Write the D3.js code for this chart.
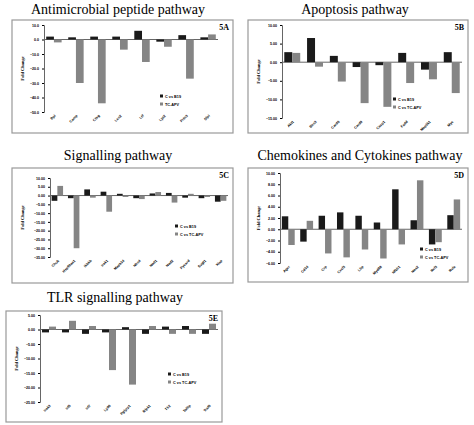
<!DOCTYPE html><html><head><meta charset="utf-8"><script src="https://d3js.org/d3.v7.min.js"></script>
<style>body{margin:0;background:#fff} .ser{font-family:"Liberation Serif","DejaVu Serif",serif}</style></head><body><script>
const catsA=["Bpi","Camp","Ctsg","Lcn2","Ltf","Lyz2","Prtn3","Slpi"];
const b19A=[2,1.5,2,2,6,-1.5,3,1.5];
const tcA=[-2,-30,-44,-7,-15.5,-5,-27,3.5];
const catsB=["Akt1","Birc3","Card6","Card9","Casp1","Fadd","Map3k1","Myc"];
const b19B=[2.7,6.5,1.7,-1.3,-0.8,2.5,-2,2.7];
const tcB=[2.5,-1.2,-5.2,-11,-12,-5.6,-4.6,-8.3];
const catsC=["Chuk","Hsp90aa1","Ikbkb","Irak1","Mapk14","Nlrc4","Nod1","Nod2","Pycard","Sugt1","Xiap"];
const b19C=[-3,-1.5,3.5,2.2,1,-1.5,1.2,1.5,-1.2,-1.5,-3.5];
const tcC=[5.5,-30,-1.2,-9.2,-0.8,-2,2,-4,1,-0.8,-3];
const catsD=["Ager","Cd14","Crp","Cxcl3","Lbp","Myd88","Nfkb1","Nos2","Rel3","Rela"];
const b19D=[2.3,-2.2,2.4,3,2.4,1.2,7.1,1.6,-2.7,2.5];
const tcD=[-2.8,1.5,-4.3,-5,-3.6,-5.2,-2.7,8.7,-2.3,5.3];
const catsE=["Irak3","Irf5","Irf7","Ly96","Pglyrp1","Ripk1","Tlr2","Tollip","Traf6"];
const b19E=[-1,-1,-1.5,-1,0.8,-1.5,1,1.2,-1.5];
const tcE=[1,3,1.2,-14,-19,1.2,-1.5,-1.5,2];

const svg=d3.select("body").append("svg").attr("width",474).attr("height",425);
const panels=[
 {t:"Antimicrobial peptide pathway",tag:"5A",cats:catsA,a:b19A,b:tcA,fr:[12,20,233,133],x:[44,218],y:[112,25],d:[-50,10],st:10,f:".1f",tx:118,ty:14,lg:[160,97],l:["C vs B19","TC-APV"]},
 {t:"Apoptosis pathway",tag:"5B",cats:catsB,a:b19B,b:tcB,fr:[248,20,468,133],x:[282,462],y:[118,25],d:[-15,10],st:5,f:".2f",tx:355,ty:14,lg:[393,100],l:["C vs B19","C vs TC-APV"]},
 {t:"Signalling pathway",tag:"5C",cats:catsC,a:b19C,b:tcC,fr:[12,168,233,283],x:[50,228],y:[257,178],d:[-35,10],st:5,f:".2f",tx:118,ty:160,lg:[175,227],l:["C vs B19","C vs TC-APV"]},
 {t:"Chemokines and Cytokines pathway",tag:"5D",cats:catsD,a:b19D,b:tcD,fr:[248,168,468,282],x:[280,462],y:[263,173],d:[-6,10],st:2,f:".2f",tx:360,ty:160,lg:[420,250],l:["C vs B19","C vs TC-APV"]},
 {t:"TLR signalling pathway",tag:"5E",cats:catsE,a:b19E,b:tcE,fr:[6,311,222,422],x:[40,218],y:[402,315],d:[-25,5],st:5,f:".2f",tx:115,ty:302,lg:[168,375],l:["C vs B19","C vs TC-APV"]}
];
panels.forEach(p=>{
 const g=svg.append("g");
 g.append("text").attr("class","ser").attr("x",p.tx).attr("y",p.ty).attr("text-anchor","middle").attr("font-size",14).text(p.t);
 g.append("rect").attr("x",p.fr[0]).attr("y",p.fr[1]).attr("width",p.fr[2]-p.fr[0]).attr("height",p.fr[3]-p.fr[1]).attr("fill","#fff").attr("stroke","#999").attr("stroke-width",1.2);
 g.append("text").attr("class","ser").attr("x",p.fr[2]-4).attr("y",p.fr[1]+10).attr("text-anchor","end").attr("font-weight","bold").attr("font-size",8).text(p.tag);
 const y=d3.scaleLinear().domain(p.d).range(p.y);
 const x=d3.scaleBand().domain(p.cats).range(p.x).paddingInner(0.3).paddingOuter(0.1);
 const ax=g.append("g").attr("transform",`translate(${p.x[0]},0)`).call(d3.axisLeft(y).tickValues(d3.range(p.d[0],p.d[1]+0.01,p.st)).tickFormat(d3.format(p.f)).tickSize(2));
 ax.selectAll("text").attr("font-size",3.6).attr("font-family","Liberation Sans").attr("font-weight","bold");
 ax.select(".domain").attr("stroke","#666");
 g.append("line").attr("x1",p.x[0]).attr("x2",p.x[1]).attr("y1",y(0)).attr("y2",y(0)).attr("stroke","#666");
 const bw=x.bandwidth()/2;
 p.cats.forEach((c,i)=>{
  [[p.a[i],"#1a1a1a",0],[p.b[i],"#858585",bw]].forEach(([v,col,off])=>{
   g.append("rect").attr("x",x(c)+off).attr("width",bw).attr("y",Math.min(y(v),y(0))).attr("height",Math.abs(y(v)-y(0))).attr("fill",col);
  });
  g.append("text").attr("transform",`translate(${x(c)+bw+2},${p.y[0]+4}) rotate(-45)`).attr("text-anchor","end").attr("font-size",3.6).attr("font-family","Liberation Sans").attr("font-weight","bold").text(c);
 });
 g.append("text").attr("class","ser").attr("transform",`translate(${p.fr[0]+12},${(p.y[0]+p.y[1])/2}) rotate(-90)`).attr("text-anchor","middle").attr("font-size",4.5).attr("font-weight","bold").text("Fold Change");
 [["#1a1a1a",0],["#858585",8]].forEach(([col,dy],k)=>{
  g.append("rect").attr("x",p.lg[0]).attr("y",p.lg[1]+dy-2.5).attr("width",3).attr("height",3).attr("fill",col);
  g.append("text").attr("x",p.lg[0]+5).attr("y",p.lg[1]+dy+0.8).attr("font-size",3.8).attr("font-family","Liberation Sans").attr("font-weight","bold").text(p.l[k]);
 });
});
</script></body></html>
